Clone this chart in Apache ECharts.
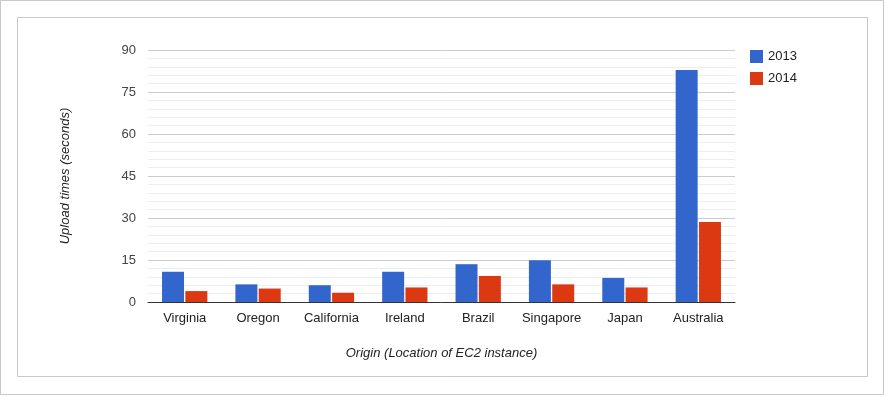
<!DOCTYPE html>
<html>
<head>
<meta charset="utf-8">
<script src="https://cdn.jsdelivr.net/npm/echarts@6/dist/echarts.min.js"></script>
<style>
html,body{margin:0;padding:0;background:#fff;}
#c{width:885px;height:396px;}
</style>
</head>
<body>
<div id="c"></div>
<script>
var categories = ['Virginia','Oregon','California','Ireland','Brazil','Singapore','Japan','Australia'];
var values2013 = [10.8, 6.3, 6.0, 10.8, 13.5, 14.9, 8.6, 82.9];
var values2014 = [3.9, 4.8, 3.3, 5.2, 9.3, 6.3, 5.2, 28.6];
var seriesNames = ['2013','2014'];

var chart = echarts.init(document.getElementById('c'), null, {renderer:'canvas'});
var font = 'Arial, "Liberation Sans", sans-serif';
chart.setOption({
  animation:false,
  backgroundColor:'#fff',
  textStyle:{fontFamily:font},
  graphic:[
    {type:'rect', shape:{x:0.5,y:0.5,width:883,height:394}, style:{fill:'none',stroke:'#c8c8c8',lineWidth:1}, silent:true, z:-1},
    {type:'rect', shape:{x:17.5,y:17.5,width:850,height:359}, style:{fill:'none',stroke:'#c8c8c8',lineWidth:1}, silent:true, z:-1}
  ],
  legend:{
    orient:'vertical', left:745, top:45,
    itemWidth:13, itemHeight:13, itemGap:9,
    icon:'rect',
    textStyle:{fontSize:13, color:'#222', fontFamily:font},
    data:seriesNames
  },
  grid:{left:148, right:150, top:50, bottom:94},
  xAxis:{
    type:'category', data:categories,
    name:'Origin (Location of EC2 instance)', nameLocation:'middle', nameGap:45,
    nameTextStyle:{fontStyle:'italic', fontSize:13, color:'#222', fontFamily:font},
    axisLine:{lineStyle:{color:'#333'}},
    axisTick:{show:false},
    axisLabel:{fontSize:13, color:'#222', margin:10, interval:0, fontFamily:font}
  },
  yAxis:{
    type:'value', min:0, max:90, interval:15,
    name:'Upload times (seconds)', nameLocation:'middle', nameGap:76, nameRotate:90,
    nameTextStyle:{fontStyle:'italic', fontSize:13, color:'#222', fontFamily:font},
    axisLine:{show:false}, axisTick:{show:false},
    axisLabel:{fontSize:13, color:'#444', margin:12, fontFamily:font},
    splitLine:{lineStyle:{color:'#cccccc'}},
    minorTick:{show:false, splitNumber:5},
    minorSplitLine:{show:true, lineStyle:{color:'#ededed'}}
  },
  series:[
    {name:seriesNames[0], type:'bar', data:values2013, barWidth:22, barGap:'6%', itemStyle:{color:'#3366cc'}},
    {name:seriesNames[1], type:'bar', data:values2014, barWidth:22, barGap:'6%', itemStyle:{color:'#dc3912'}}
  ]
});
</script>
</body>
</html>
